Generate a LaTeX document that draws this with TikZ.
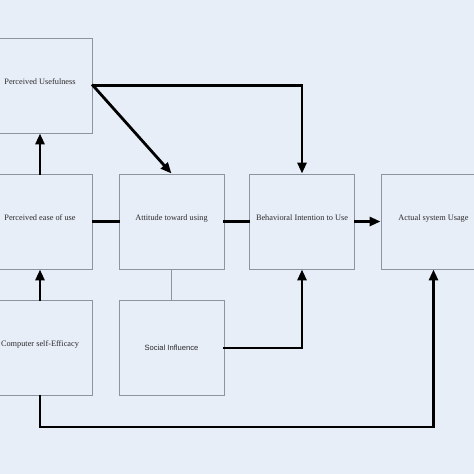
\documentclass[tikz,border=0pt]{standalone}
\usepackage{fontspec}
\setmainfont{Liberation Serif}
\newfontfamily\sisans{Liberation Sans}
\usetikzlibrary{arrows.meta}
\definecolor{bgblue}{HTML}{E8EEF8}
\definecolor{boxline}{HTML}{8C949E}
\definecolor{txtgray}{HTML}{2A2A2A}
\tikzset{
  factor/.style={draw=boxline, fill=bgblue, line width=0.9pt, minimum width=105pt,
    minimum height=95pt, inner sep=0pt, text=txtgray, text depth=8pt,
    font=\fontsize{8.3}{9}\selectfont},
  link/.style={line width=2.8pt, line cap=rect},
  arr/.style={link, -{Triangle[length=11pt,width=9pt]}}
}
\begin{document}
\begin{tikzpicture}[x=1pt,y=-1pt]
    \useasboundingbox (0,0) rectangle (474,474);
    \fill[bgblue] (0,0) rectangle (474,474);

    \node[factor] (pu)  at (40,85.5)    { Perceived Usefulness };
    \node[factor] (peu) at (40,221.5)   { Perceived ease of use };
    \node[factor] (att) at (171.5,221.5) { Attitude toward using };
    \node[factor] (bi)  at (302,221.5)  { Behavioral Intention to Use };
    \node[factor] (asu) at (433.5,221.5) { Actual system Usage };
    \node[factor] (cse) at (40,348)     { Computer self-Efficacy };
    \node[factor, text depth=1.5pt, font=\sisans\fontsize{7.6}{9}\selectfont] (si) at (171.5,348) { Social Influence };

    \coordinate (low) at (40,427);

    \draw[arr] (pu.east) -| (bi.north);
    \draw[arr] (pu.east) -- (att.north);
    \draw[arr] (peu.north) -- (pu.south);
    \draw[arr] (cse.north) -- (peu.south);
    \draw[link] (peu.east) -- (att.west);
    \draw[link] (att.east) -- (bi.west);
    \draw[arr] (bi.east) -- (asu.west);
    \draw[boxline, line width=0.9pt] (att.south) -- (si.north);
    \draw[arr] (si.east) -| (bi.south);
    \draw[arr] (cse.south) -- (low) -| (asu.south);
\end{tikzpicture}
\end{document}
